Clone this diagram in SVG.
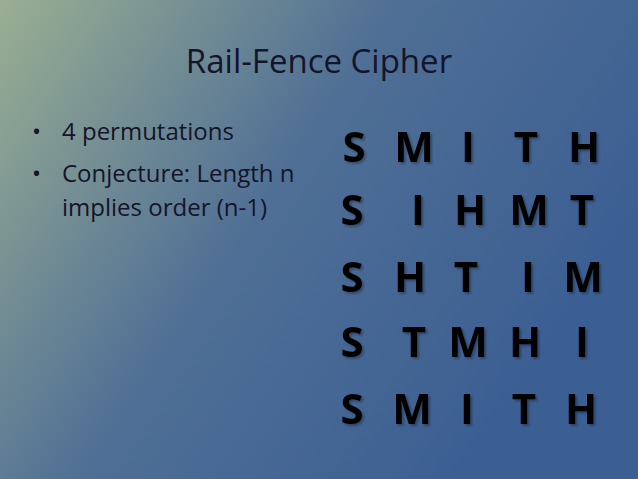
<svg xmlns="http://www.w3.org/2000/svg" width="638" height="479" viewBox="0 0 638 479">
<defs>
<linearGradient id="bg" x1="0" y1="0" x2="1" y2="0.5">
<stop offset="0" stop-color="#9aaf92"/>
<stop offset="0.5" stop-color="#4f6f95"/>
<stop offset="1" stop-color="#3b5e93"/>
</linearGradient>
<filter id="sh" x="-20%" y="-20%" width="140%" height="140%"><feDropShadow dx="2" dy="2" stdDeviation="1" flood-color="#000" flood-opacity="0.3"/></filter>
</defs>
<style>
.t{font-family:"Open Sans","Liberation Sans",sans-serif;fill:#14142a}
.b{font-size:24px}
.L{font-family:"Open Sans","Liberation Sans",sans-serif;font-weight:bold;font-size:42px;fill:#000;text-anchor:middle;filter:url(#sh)}
</style>
<rect width="638" height="479" fill="url(#bg)"/>
<text class="t" x="319" y="73" font-size="33" text-anchor="middle">Rail-Fence Cipher</text>
<g class="t b">
<text x="32" y="140">•</text><text x="62" y="140">4 permutations</text>
<text x="32" y="182">•</text><text x="62" y="182">Conjecture: Length n</text>
<text x="62" y="216">implies order (n-1)</text>
</g>
<g class="L">
<text x="354" y="162">S</text><text x="414" y="162">M</text><text x="468" y="162">I</text><text x="526" y="162">T</text><text x="584" y="162">H</text>
<text x="352" y="225">S</text><text x="418" y="225">I</text><text x="470" y="225">H</text><text x="529" y="225">M</text><text x="582" y="225">T</text>
<text x="352" y="292">S</text><text x="410" y="292">H</text><text x="466" y="292">T</text><text x="528" y="292">I</text><text x="583" y="292">M</text>
<text x="352" y="357">S</text><text x="414" y="357">T</text><text x="468" y="357">M</text><text x="525" y="357">H</text><text x="582" y="357">I</text>
<text x="352" y="424">S</text><text x="412" y="424">M</text><text x="467" y="424">I</text><text x="524" y="424">T</text><text x="581" y="424">H</text>
</g>
</svg>
